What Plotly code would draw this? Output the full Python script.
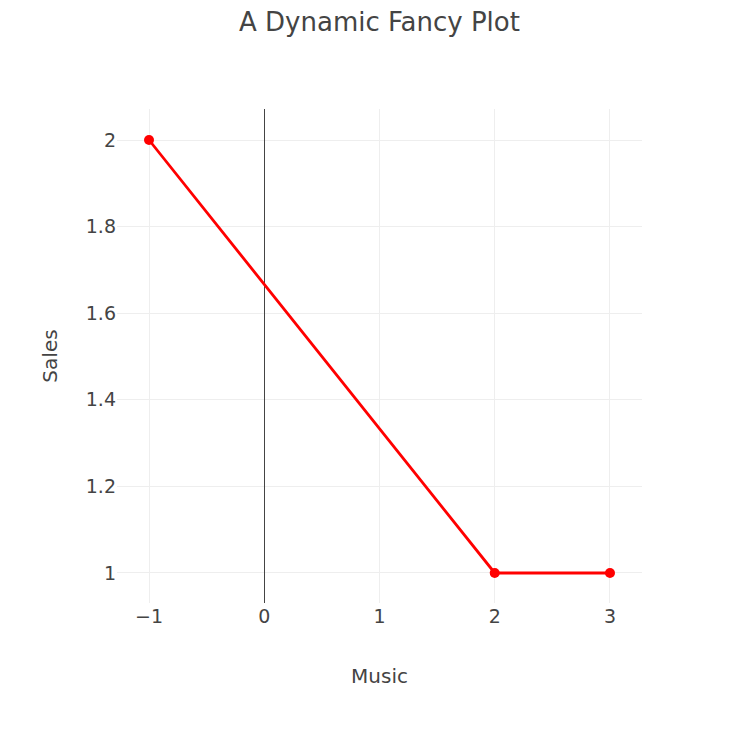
import plotly.graph_objects as go

x_vals = [-1, 2, 3]
y_vals = [2, 1, 1]
title_text = "A Dynamic Fancy Plot"
x_title = "Music"
y_title = "Sales"

W, H = 722, 724

fig = go.Figure()
fig.add_trace(go.Scatter(
    x=x_vals, y=y_vals, mode="lines+markers",
    line=dict(color="red", width=2.8),
    marker=dict(color="red", size=10),
    showlegend=False,
))

fig.update_layout(
    width=W, height=H,
    margin=dict(l=109, r=88, t=101, b=129),
    paper_bgcolor="white", plot_bgcolor="white",
    font=dict(family="DejaVu Sans", color="#444", size=19),
    title=dict(text=title_text, x=0.5, xref="paper", xanchor="center",
               y=1 - 14 / H, yref="container", yanchor="middle",
               font=dict(size=26, color="#444")),
    xaxis=dict(
        title=dict(text=x_title, font=dict(size=20), standoff=42),
        range=[-1.278, 3.278], tickvals=[-1, 0, 1, 2, 3],
        showgrid=True, gridcolor="#eeeeee", gridwidth=1.3,
        zeroline=True, zerolinecolor="#444", zerolinewidth=1.3,
        showline=False, ticks="",
    ),
    yaxis=dict(
        title=dict(text=y_title, font=dict(size=20), standoff=22),
        range=[0.9307, 2.0716], tickvals=[1, 1.2, 1.4, 1.6, 1.8, 2],
        showgrid=True, gridcolor="#eeeeee", gridwidth=1.3,
        zeroline=False, showline=False, ticks="",
    ),
)

fig.write_html("out.html")
